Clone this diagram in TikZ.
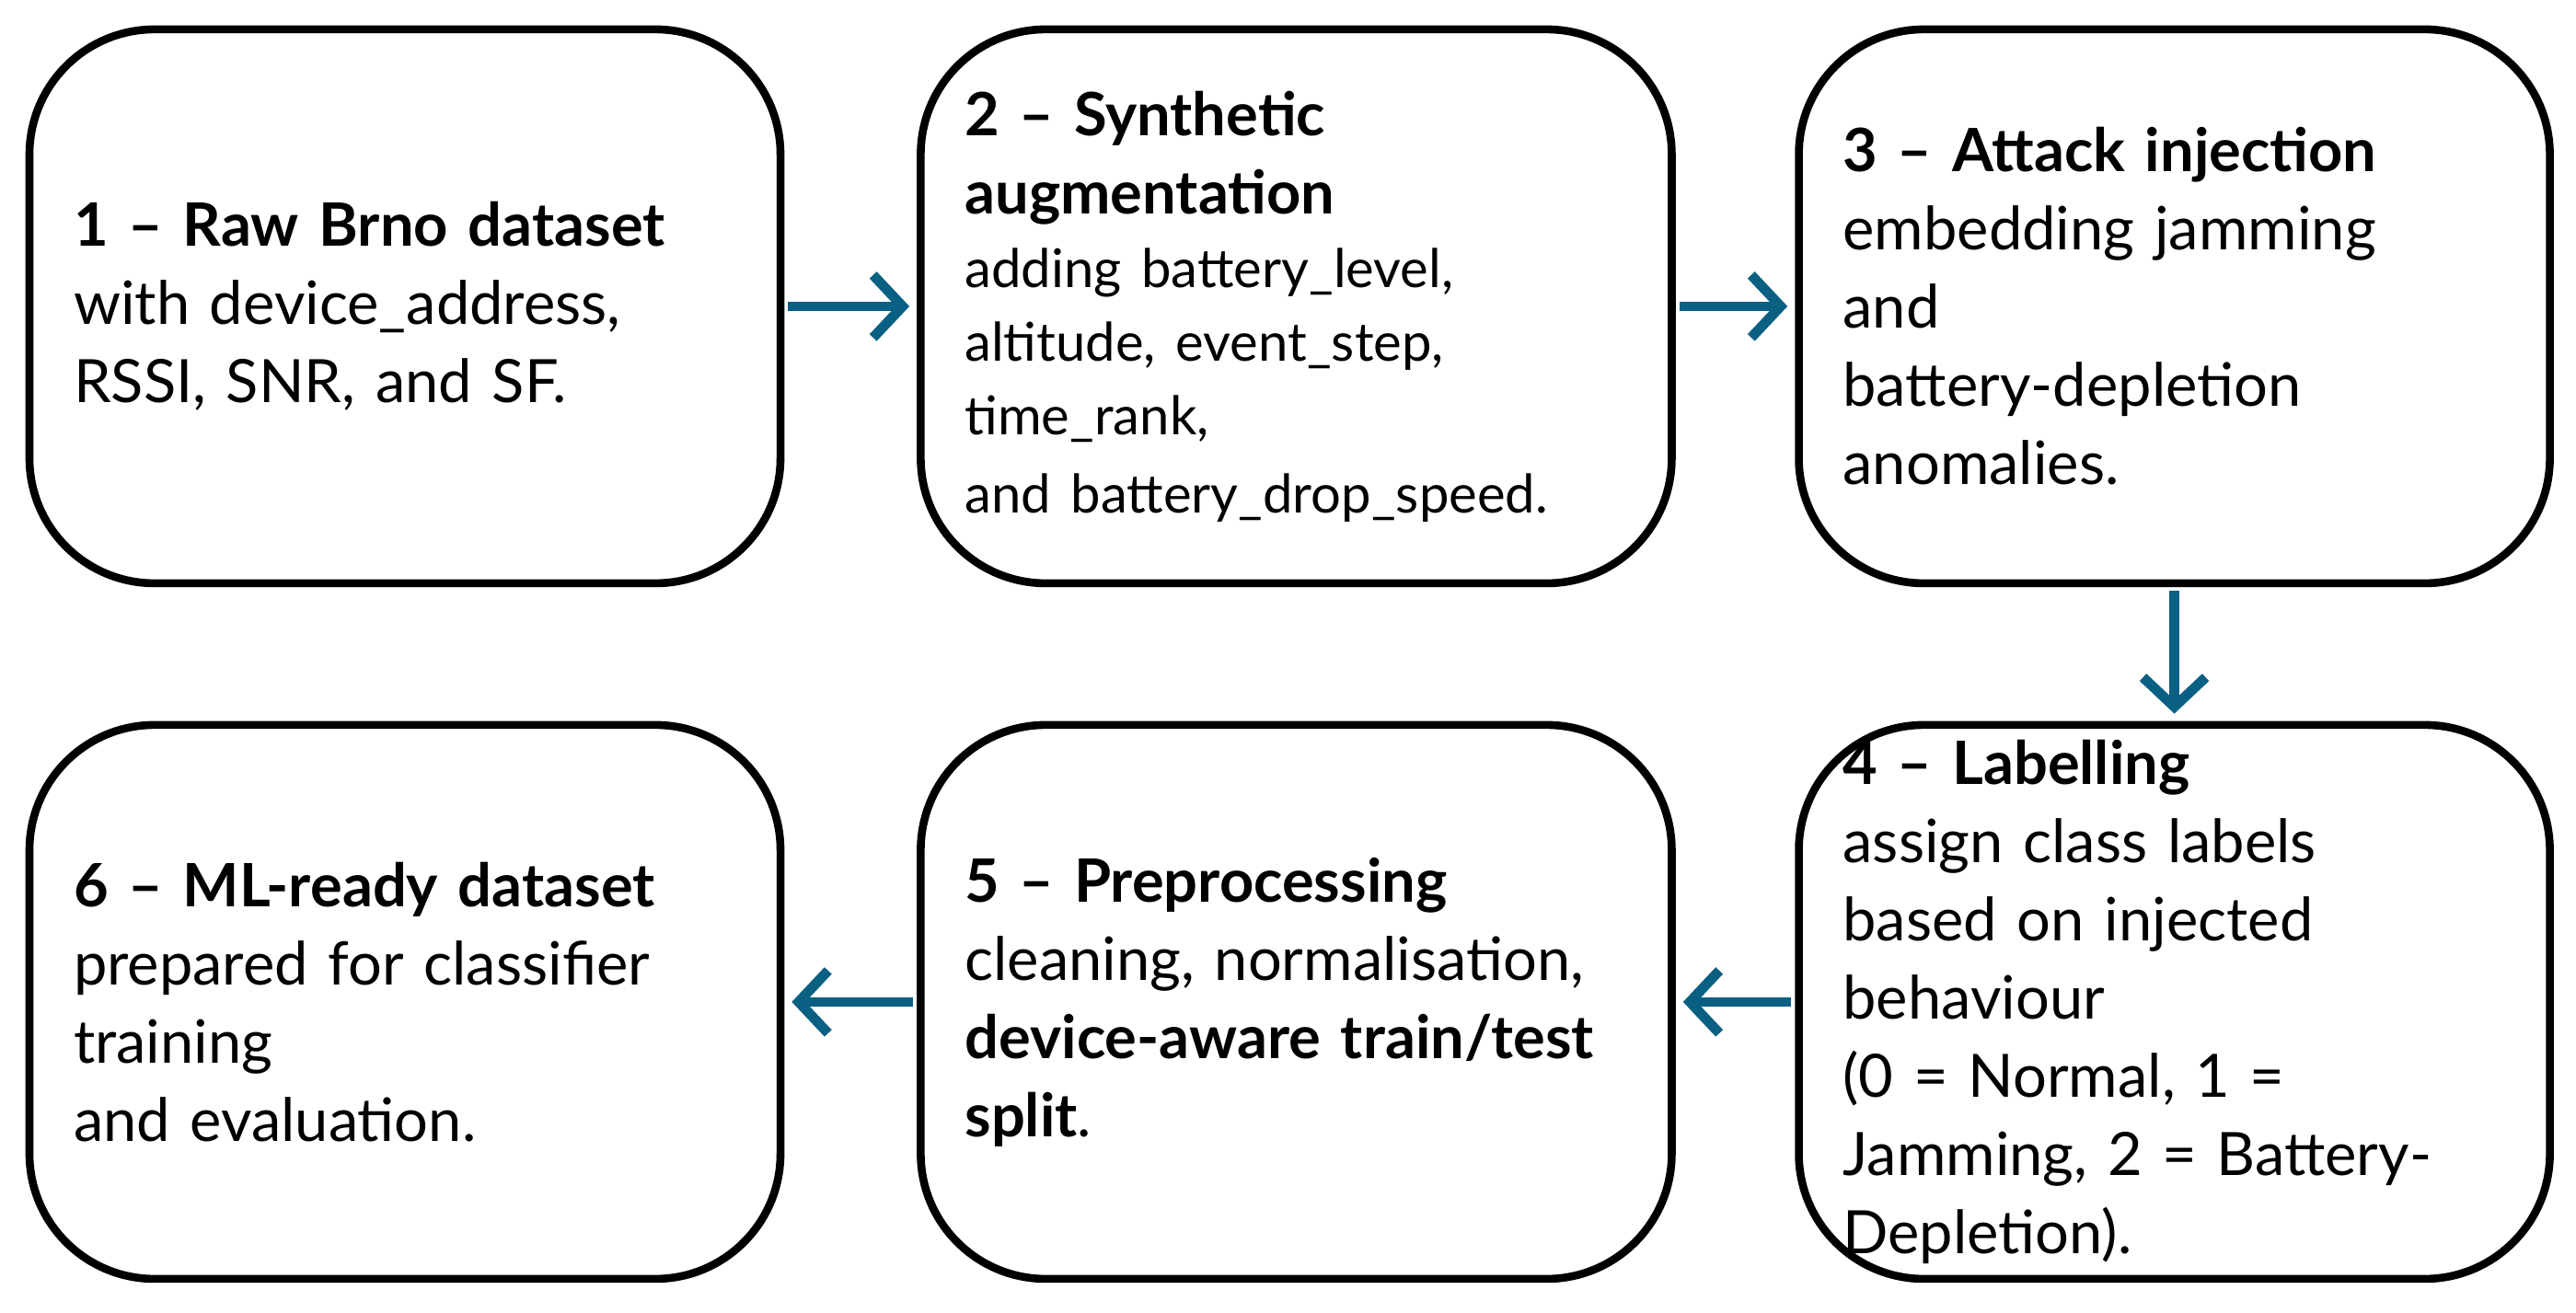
\documentclass[tikz,border=0pt]{standalone}
\usepackage{fontspec}
\setmainfont{Lato}
\usetikzlibrary{arrows.meta}
\definecolor{arr}{RGB}{10,96,130}
\hyphenpenalty=10000
\begin{document}
\begin{tikzpicture}[x=0.8925pt,y=-0.8925pt,
  box/.style={draw=black,line width=4.3pt,rounded corners=68pt,minimum width=408pt,minimum height=301pt,align=left,text width=360pt,inner sep=0pt,font=\fontsize{32.5}{42.5}\selectfont},
  conn/.style={draw=arr,line width=5.4pt,-{Straight Barb[length=16pt,width=34pt,line width=5.4pt]}}]
\useasboundingbox (0,0) rectangle (1568,799.4);
\node[box] (b1) at (246.5,186.5) {\textbf{1 – Raw Brno dataset}\\with device\_address,\\RSSI, SNR, and SF.\\[1.9em]};
\node[box] (b2) at (789,186.5) {\textbf{2 – Synthetic}\\\textbf{augmentation}\\{\fontsize{29}{40}\selectfont adding battery\_level,\\altitude, event\_step,\\time\_rank,\\and battery\_drop\_speed.}};
\node[box] (b3) at (1323.5,186.5) {\textbf{3 – Attack injection}\\embedding jamming\\and\\battery-depletion\\anomalies.\\[0.6em]};
\node[box] (b4) at (1323.5,610) {\textbf{4 – Labelling}\\assign class labels\\based on injected\\behaviour\\(0 = Normal, 1 =\\Jamming, 2 = Battery-\\Depletion).};
\node[box] (b5) at (789,610) {\textbf{5 – Preprocessing}\\cleaning, normalisation,\\\textbf{device-aware train/test}\\\textbf{split}.\\[1.1em]};
\node[box] (b6) at (246.5,610) {\textbf{6 – ML-ready dataset}\\prepared for classifier\\training\\and evaluation.\\[1.1em]};
\draw[conn] ([xshift=2pt]b1.east) -- ([xshift=-4pt]b2.west);
\draw[conn] ([xshift=2pt]b2.east) -- ([xshift=-4pt]b3.west);
\draw[conn] ([yshift=-2pt]b3.south) -- ([yshift=4pt]b4.north);
\draw[conn] ([xshift=-2pt]b4.west) -- ([xshift=4pt]b5.east);
\draw[conn] ([xshift=-2pt]b5.west) -- ([xshift=4pt]b6.east);
\end{tikzpicture}
\end{document}
